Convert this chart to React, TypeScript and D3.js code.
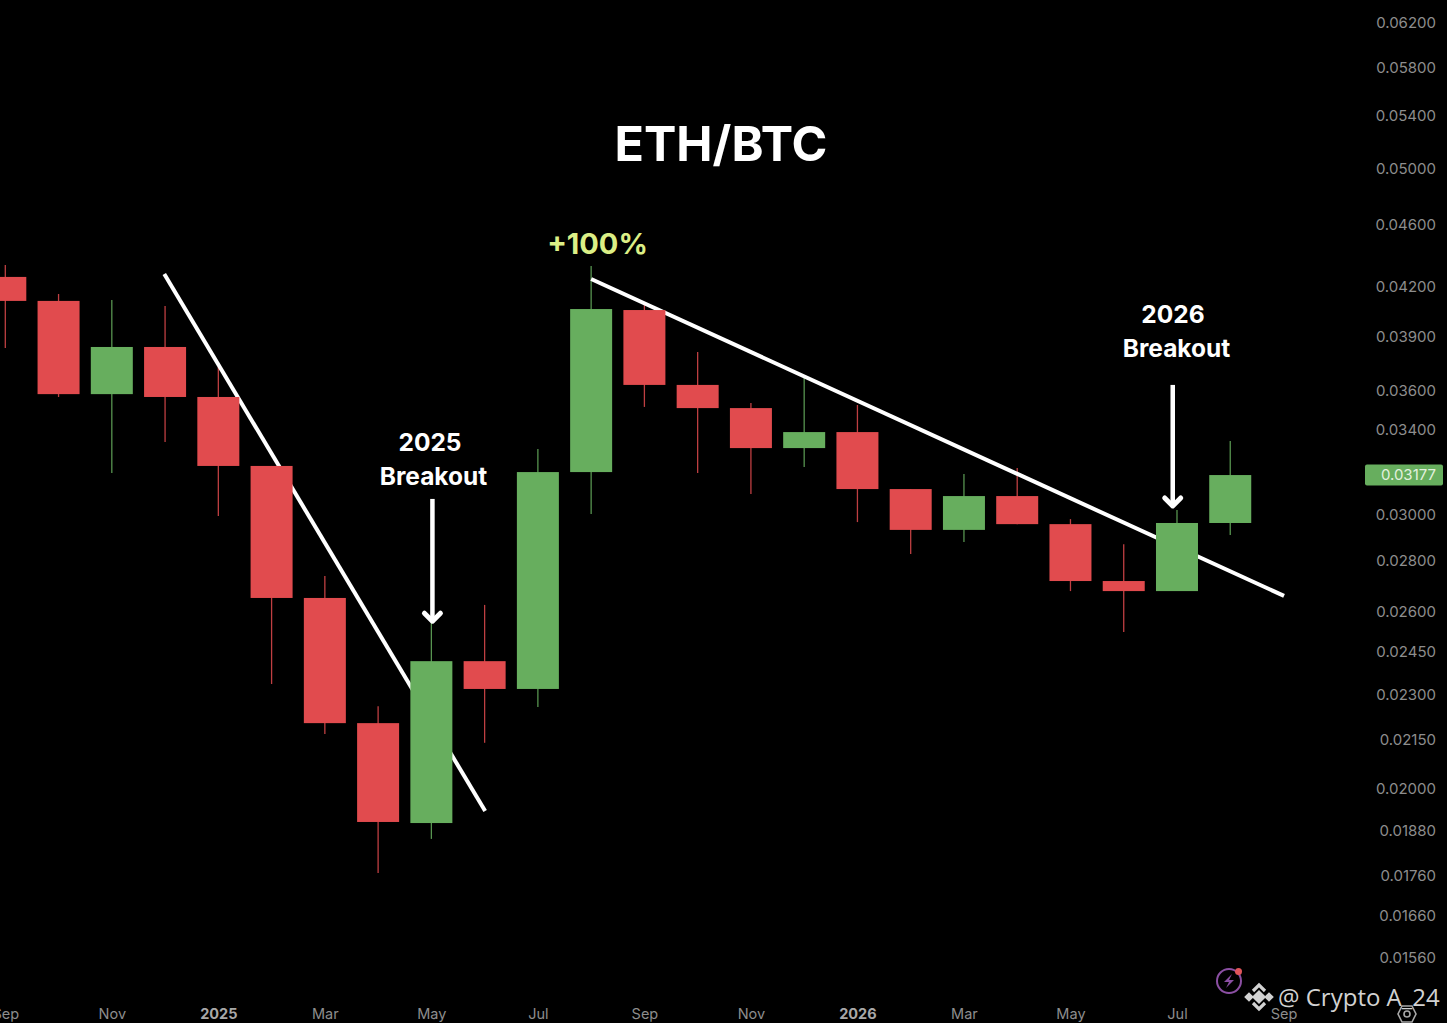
import { useEffect, useRef } from 'react';
import * as d3 from "d3";

// Monthly candles, Sep 2024 to Aug 2026
const months = [
  "Sep 24", "Oct 24", "Nov 24", "Dec 24", "Jan 25", "Feb 25", "Mar 25", "Apr 25",
  "May 25", "Jun 25", "Jul 25", "Aug 25", "Sep 25", "Oct 25", "Nov 25", "Dec 25",
  "Jan 26", "Feb 26", "Mar 26", "Apr 26", "May 26", "Jun 26", "Jul 26", "Aug 26",
];
const opens = [
  0.04256, 0.04108, 0.03580, 0.03838, 0.03565, 0.03220, 0.02650, 0.02203,
  0.01901, 0.02414, 0.02317, 0.03191, 0.04053, 0.03629, 0.03507, 0.03306,
  0.03385, 0.03112, 0.02930, 0.03080, 0.02955, 0.02717, 0.02677, 0.02960,
];
const closes = [
  0.04108, 0.03580, 0.03838, 0.03565, 0.03220, 0.02650, 0.02203, 0.01904,
  0.02414, 0.02317, 0.03191, 0.04059, 0.03629, 0.03507, 0.03306, 0.03385,
  0.03112, 0.02930, 0.03080, 0.02955, 0.02717, 0.02677, 0.02960, 0.03177,
];
const highs = [
  0.04331, 0.04150, 0.04113, 0.04077, 0.03726, 0.03220, 0.02737, 0.02259,
  0.02557, 0.02623, 0.03301, 0.04325, 0.04083, 0.03810, 0.03533, 0.03683,
  0.03523, 0.03112, 0.03182, 0.03210, 0.02977, 0.02869, 0.03017, 0.03341,
];
const lows = [
  0.03832, 0.03565, 0.03187, 0.03336, 0.02991, 0.02334, 0.02168, 0.01766,
  0.01857, 0.02140, 0.02256, 0.03000, 0.03513, 0.03187, 0.03089, 0.03215,
  0.02964, 0.02828, 0.02878, 0.02955, 0.02677, 0.02520, 0.02677, 0.02908,
];

const priceTicks = [
  0.062, 0.058, 0.054, 0.05, 0.046, 0.042, 0.039, 0.036, 0.034, 0.03,
  0.028, 0.026, 0.0245, 0.023, 0.0215, 0.02, 0.0188, 0.0176, 0.0166, 0.0156,
];
const lastPrice = 0.03177;

const timeTickIndex = [0, 2, 4, 6, 8, 10, 12, 14, 16, 18, 20, 22, 24];
const timeTickLabels = ["Sep", "Nov", "2025", "Mar", "May", "Jul", "Sep", "Nov", "2026", "Mar", "May", "Jul", "Sep"];

// Trendlines and arrows: [month index, price]
const trendlines = [
  [[2.985, 0.04274], [9.01, 0.01935]],
  [[11.0, 0.04243], [24.01, 0.02658]],
];
const arrows = [
  [[8.02, 0.03067], [8.02, 0.02557]],
  [[21.92, 0.03629], [21.92, 0.03031]],
];

const GREEN = "#67ae5e";
const RED = "#e14b4e";

export default function App() {
  const chartRef = useRef<SVGSVGElement>(null);

  useEffect(() => {
    if (!chartRef.current) return;

    // Clear previous chart
    d3.select(chartRef.current).selectAll("*").remove();

    const width = 1447;
    const height = 1023;
    const bodyWidth = 42;
    const font = "Inter, 'Noto Sans', sans-serif";
    const labelFont = "Inter, 'Noto Sans', sans-serif";
    const markFont = "'Open Sans', 'Noto Sans', sans-serif";

    const x = d3.scaleLinear().domain([0, 24]).range([5.3, 1283.5]);
    const y = d3.scaleLog().domain([0.062, 0.0156]).range([22, 957]);

    const svg = d3.select(chartRef.current)
      .attr("viewBox", [0, 0, width, height])
      .attr("width", width)
      .attr("height", height)
      .attr("style", "position: absolute; left: 0; top: 0; display: block; background: #000;");

    const candles = months.map((m, i) => ({
      m, i, open: opens[i], close: closes[i], high: highs[i], low: lows[i],
    }));
    const colorOf = (d: { open: number; close: number }) => d.close >= d.open ? GREEN : RED;

    // Wicks
    svg.append("g")
      .selectAll("line")
      .data(candles)
      .join("line")
      .attr("x1", d => x(d.i))
      .attr("x2", d => x(d.i))
      .attr("y1", d => y(d.high))
      .attr("y2", d => y(d.low))
      .attr("stroke", colorOf)
      .attr("stroke-width", 1.3)
      .attr("opacity", 0.85);

    // Trendlines go under the bodies
    const line = d3.line<number[]>().x(d => x(d[0])).y(d => y(d[1]));
    svg.append("g")
      .selectAll("path")
      .data(trendlines)
      .join("path")
      .attr("d", d => line(d))
      .attr("fill", "none")
      .attr("stroke", "#fff")
      .attr("stroke-width", 4);

    // Bodies
    svg.append("g")
      .selectAll("rect")
      .data(candles)
      .join("rect")
      .attr("x", d => x(d.i) - bodyWidth / 2)
      .attr("width", bodyWidth)
      .attr("y", d => y(Math.max(d.open, d.close)))
      .attr("height", d => Math.abs(y(d.open) - y(d.close)))
      .attr("fill", colorOf);

    // Price axis
    svg.append("g")
      .attr("transform", "translate(1436,0.5)")
      .call(d3.axisLeft(y).tickValues(priceTicks).tickFormat(d3.format(".5f") as any).tickSize(0).tickPadding(0))
      .call(g => g.select(".domain").remove())
      .call(g => g.selectAll("text")
        .attr("fill", "#8d8d8d")
        .attr("font-family", font)
        .attr("font-size", 15));

    // Last price tag
    svg.append("rect")
      .attr("x", 1365)
      .attr("y", y(lastPrice) - 10.5)
      .attr("width", 78)
      .attr("height", 21)
      .attr("rx", 2)
      .attr("fill", GREEN);
    svg.append("text")
      .attr("x", 1436)
      .attr("y", y(lastPrice))
      .attr("dy", "0.35em")
      .attr("text-anchor", "end")
      .attr("fill", "#e3f1df")
      .attr("font-family", font)
      .attr("font-size", 15)
      .text(d3.format(".5f")(lastPrice));

    // Time axis
    svg.append("g")
      .attr("transform", "translate(0,1006)")
      .call(d3.axisBottom(x).tickValues(timeTickIndex).tickFormat((_, i) => timeTickLabels[i]).tickSize(0).tickPadding(0))
      .call(g => g.select(".domain").remove())
      .call(g => g.selectAll("text")
        .attr("dy", "0.9em")
        .attr("fill", (_, i) => /^\d/.test(timeTickLabels[i]) ? "#a8a8a8" : "#8d8d8d")
        .attr("font-weight", (_, i) => /^\d/.test(timeTickLabels[i]) ? 700 : 400)
        .attr("font-family", font)
        .attr("font-size", 14.5));

    // Title and notes
    const notes = [
      { text: "ETH/BTC", x: 721, y: 161, size: 48.5, fill: "#fff" },
      { text: "+100%", x: 597.5, y: 254, size: 29, fill: "#dcef86" },
      { text: "2025", x: 430, y: 451, size: 24.5, fill: "#fff" },
      { text: "Breakout", x: 433.5, y: 485, size: 24.5, fill: "#fff" },
      { text: "2026", x: 1173, y: 323, size: 24.5, fill: "#fff" },
      { text: "Breakout", x: 1176.5, y: 357, size: 24.5, fill: "#fff" },
    ];
    svg.append("g")
      .selectAll("text")
      .data(notes)
      .join("text")
      .attr("x", d => d.x)
      .attr("y", d => d.y)
      .attr("text-anchor", "middle")
      .attr("font-family", labelFont)
      .attr("font-weight", 700)
      .attr("font-size", d => d.size)
      .attr("fill", d => d.fill)
      .text(d => d.text);

    // Arrows
    const arrow = svg.append("g")
      .attr("fill", "none")
      .attr("stroke", "#fff")
      .attr("stroke-width", 4.5);
    arrows.forEach(a => {
      const px = x(a[1][0]);
      const tip = y(a[1][1]);
      arrow.append("path").attr("d", line(a));
      arrow.append("path")
        .attr("d", `M${px - 8},${tip - 9}L${px},${tip - 1}L${px + 8},${tip - 9}`)
        .attr("stroke-linecap", "round")
        .attr("stroke-linejoin", "round")
        .attr("stroke-width", 5);
    });

    // Watermark
    svg.append("text")
      .attr("x", 1278)
      .attr("y", 1006)
      .attr("font-family", markFont)
      .attr("font-size", 24)
      .attr("fill", "#d2d2d2")
      .text("@ Crypto A_24");

    const logo = svg.append("g").attr("transform", "translate(1259,997)").attr("fill", "#d2d2d2");
    [[0, 0, 5], [-10, 0, 3.4], [10, 0, 3.4]].forEach(([cx, cy, s]) => {
      logo.append("rect")
        .attr("x", -s).attr("y", -s).attr("width", s * 2).attr("height", s * 2)
        .attr("transform", `translate(${cx},${cy}) rotate(45)`);
    });
    logo.append("path")
      .attr("d", "M-6,-6L0,-12L6,-6M-6,6L0,12L6,6")
      .attr("fill", "none")
      .attr("stroke", "#d2d2d2")
      .attr("stroke-width", 3.2);

    // Lightning badge
    const badge = svg.append("g").attr("transform", "translate(1229,981)");
    badge.append("circle")
      .attr("r", 12).attr("fill", "none").attr("stroke", "#8b4fa3").attr("stroke-width", 2);
    badge.append("path")
      .attr("d", "M3,-7L-5,1L0,1L-3,7L5,-1L0,-1Z")
      .attr("fill", "#8b4fa3");
    badge.append("circle")
      .attr("cx", 9.5).attr("cy", -9.5).attr("r", 3.5).attr("fill", "#e0555a");

    // Settings hexagon
    const gear = svg.append("g").attr("transform", "translate(1407,1014)");
    gear.append("path")
      .attr("d", "M-5,-8L5,-8L9,0L5,8L-5,8L-9,0Z")
      .attr("fill", "none").attr("stroke", "#a8a8a8").attr("stroke-width", 1.6);
    gear.append("circle")
      .attr("r", 3).attr("fill", "none").attr("stroke", "#a8a8a8").attr("stroke-width", 1.6);
  }, []);

  return <svg ref={chartRef}></svg>;
}
